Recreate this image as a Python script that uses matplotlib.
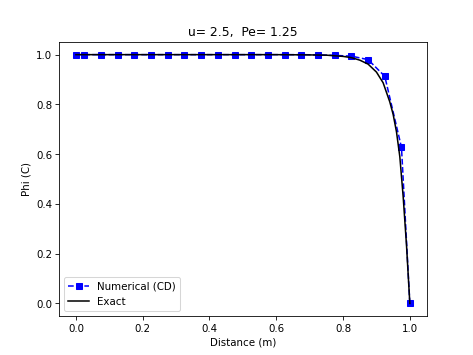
import numpy as np
import matplotlib
matplotlib.use('Agg')
import matplotlib.pyplot as plt

# numerical (central differencing) solution
x_num = [0.0, 0.025, 0.075, 0.125, 0.175, 0.225, 0.275, 0.325, 0.375, 0.425,
         0.475, 0.525, 0.575, 0.625, 0.675, 0.725, 0.775, 0.825, 0.875, 0.925,
         0.975, 1.0]
phi_num = [1.0, 1.0, 1.0, 1.0, 1.0, 1.0, 1.0, 1.0, 1.0, 1.0,
           1.0, 1.0, 1.0, 1.0, 1.0, 0.999, 0.997, 0.994, 0.980, 0.913,
           0.627, 0.0]

# exact solution
x_exact = [0.0, 0.1, 0.2, 0.3, 0.4, 0.5, 0.6, 0.7, 0.75, 0.8, 0.825, 0.85,
           0.875, 0.9, 0.92, 0.94, 0.95, 0.96, 0.97, 0.98, 0.99, 1.0]
phi_exact = [1.0, 1.0, 1.0, 1.0, 1.0, 1.0, 1.0, 0.999, 0.998, 0.993, 0.988, 0.978,
             0.962, 0.930, 0.887, 0.810, 0.760, 0.690, 0.590, 0.430, 0.235, 0.0]

# default 6.4x4.8 figure, scaled down to ~474x355
fig = plt.figure(figsize=(6.4, 4.8), dpi=74.05)
plt.plot(x_num, phi_num, 'bs--', label='Numerical (CD)')
plt.plot(x_exact, phi_exact, 'k-', label='Exact')
plt.title('u= 2.5,  Pe= 1.25')
plt.xlabel('Distance (m)')
plt.ylabel('Phi (C)')
plt.legend(loc='lower left')
plt.savefig('out.png', dpi=74.05)
